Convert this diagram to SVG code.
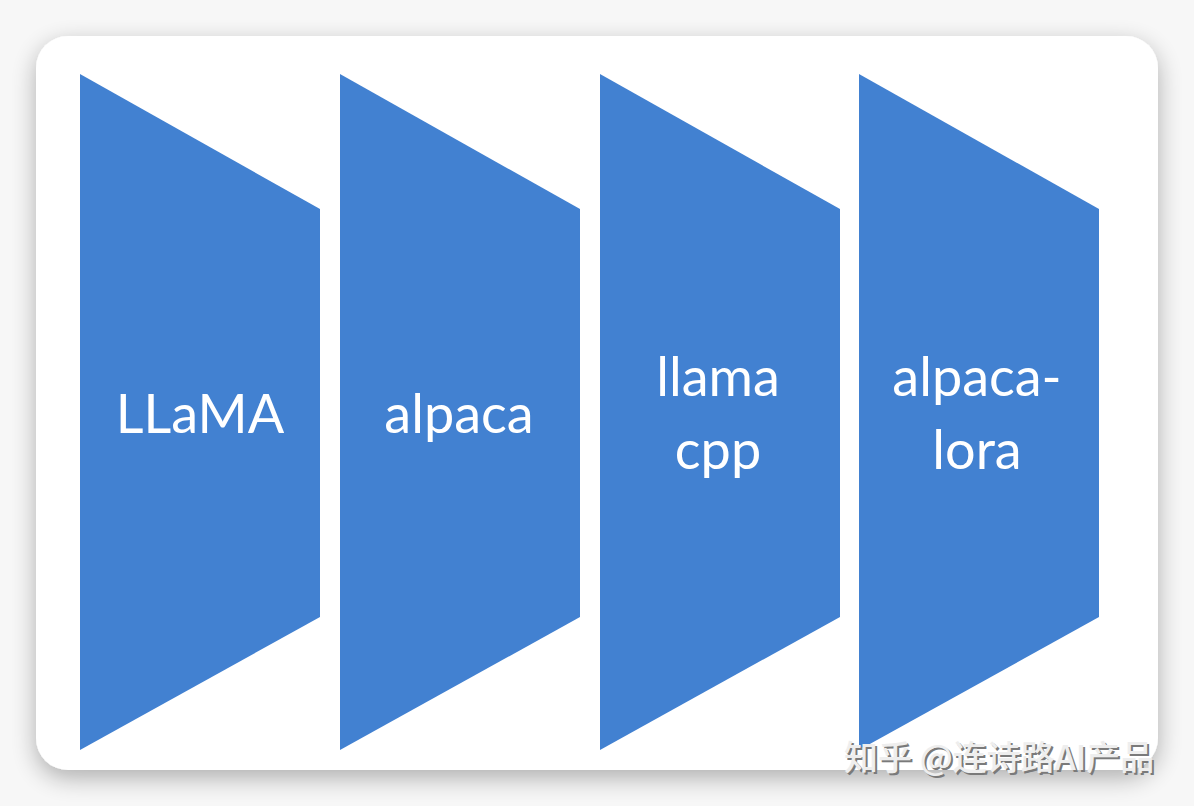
<svg xmlns="http://www.w3.org/2000/svg" width="1194" height="806" viewBox="0 0 1194 806">
<style>
.shape{fill:#4281d1}
.lbl{font-family:"Lato","Open Sans","Liberation Sans",sans-serif;font-size:54px;fill:#ffffff;text-anchor:middle}
.wm{font-family:"Noto Sans CJK SC","Noto Sans",sans-serif;font-size:34px;font-weight:500}
</style>
<defs>
<filter id="sh" x="-10%" y="-10%" width="120%" height="125%">
<feGaussianBlur in="SourceAlpha" stdDeviation="12"/>
<feOffset dx="0" dy="8"/>
<feComponentTransfer><feFuncA type="linear" slope="0.3"/></feComponentTransfer>
<feMerge><feMergeNode/><feMergeNode in="SourceGraphic"/></feMerge>
</filter>
</defs>
<rect x="0" y="0" width="1194" height="806" fill="#f7f7f7"/>
<rect id="card" x="36" y="36" width="1122" height="734" rx="32" fill="#ffffff" filter="url(#sh)"/>
<g id="node-llama">
<polygon class="shape" points="80,74 320,209 320,617 80,750"/>
<text class="lbl" x="200" y="433">LLaMA</text>
</g>
<g id="node-alpaca">
<polygon class="shape" points="340,74 580,209 580,617 340,750"/>
<text class="lbl" x="459" y="433">alpaca</text>
</g>
<g id="node-llamacpp">
<polygon class="shape" points="600,74 840,209 840,617 600,750"/>
<text class="lbl" x="718" y="396">llama</text>
<text class="lbl" x="718" y="469">cpp</text>
</g>
<g id="node-alpacalora">
<polygon class="shape" points="859,74 1099,209 1099,617 859,750"/>
<text class="lbl" x="977" y="396">alpaca-</text>
<text class="lbl" x="977" y="469">lora</text>
</g>
<g id="connectors"></g>
<g id="watermark">
<text class="wm" x="846" y="772" fill="#7a7a7a">知乎 @连诗路AI产品</text>
<text class="wm" x="844" y="770" fill="#eeeeee">知乎 @连诗路AI产品</text>
</g>
</svg>
